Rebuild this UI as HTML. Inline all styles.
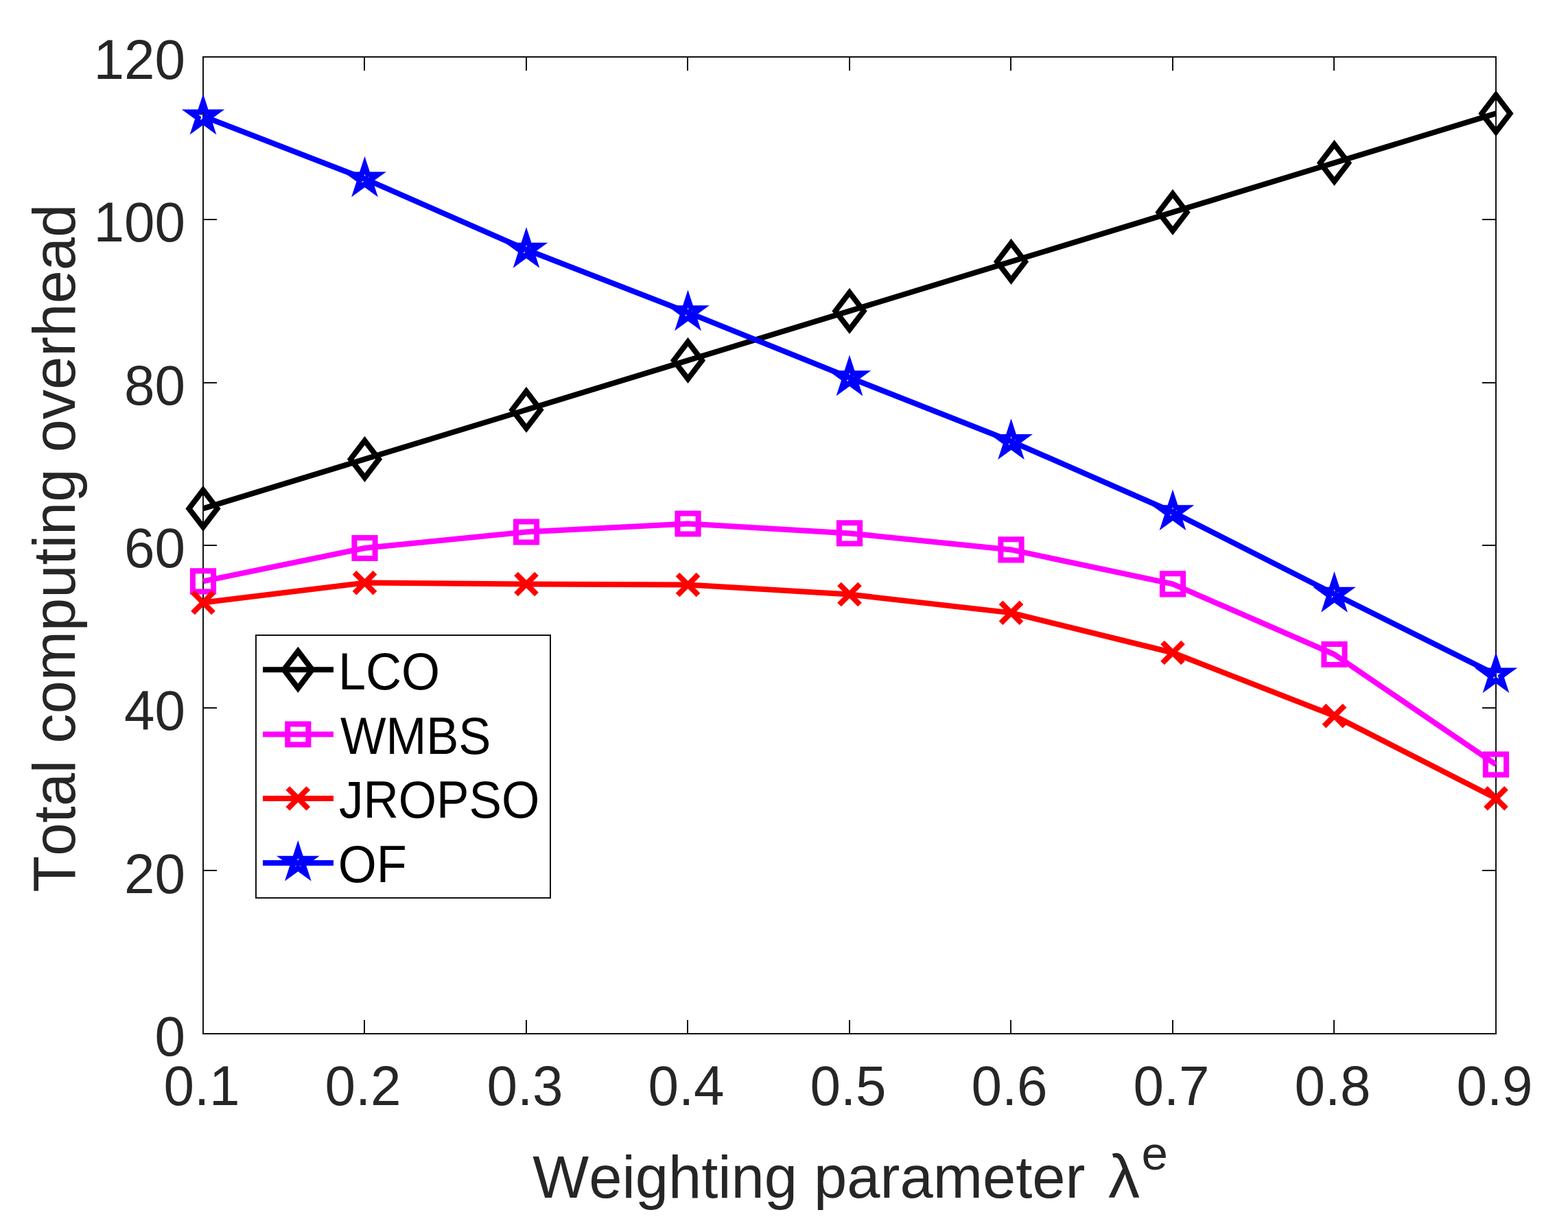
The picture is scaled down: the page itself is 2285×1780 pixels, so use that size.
<!DOCTYPE html>
<html><head><meta charset="utf-8"><title>Chart</title>
<style>
html,body{margin:0;padding:0;background:#fff;}
body{width:2285px;height:1780px;overflow:hidden;}
svg{display:block;}
text{font-family:"Liberation Sans",Arial,Helvetica,sans-serif;font-kerning:none;font-feature-settings:"kern" 0;}
</style></head><body>
<svg width="2285" height="1780" viewBox="0 0 2285 1780">
<rect x="0" y="0" width="2285" height="1780" fill="#fff"/>
<path d="M296 83H2180V1507H296ZM531 1507V1488 M531 83V102M767 1507V1488 M767 83V102M1002 1507V1488 M1002 83V102M1238 1507V1488 M1238 83V102M1473 1507V1488 M1473 83V102M1709 1507V1488 M1709 83V102M1944 1507V1488 M1944 83V102M296 1269H315 M2180 1269H2161M296 1032H315 M2180 1032H2161M296 795H315 M2180 795H2161M296 558H315 M2180 558H2161M296 320H315 M2180 320H2161" fill="none" stroke="#111111" stroke-width="2" stroke-linecap="square"/>
<g fill="#262626" font-size="80">
<text transform="translate(270 1539) scale(1 1.02)" text-anchor="end">0</text>
<text transform="translate(270 1301.67) scale(1 1.02)" text-anchor="end">20</text>
<text transform="translate(270 1064.33) scale(1 1.02)" text-anchor="end">40</text>
<text transform="translate(270 827) scale(1 1.02)" text-anchor="end">60</text>
<text transform="translate(270 589.67) scale(1 1.02)" text-anchor="end">80</text>
<text transform="translate(270 352.33) scale(1 1.02)" text-anchor="end">100</text>
<text transform="translate(270 115) scale(1 1.02)" text-anchor="end">120</text>
<text transform="translate(294 1610.8) scale(1 1.02)" text-anchor="middle">0.1</text>
<text transform="translate(529 1610.8) scale(1 1.02)" text-anchor="middle">0.2</text>
<text transform="translate(765 1610.8) scale(1 1.02)" text-anchor="middle">0.3</text>
<text transform="translate(1000 1610.8) scale(1 1.02)" text-anchor="middle">0.4</text>
<text transform="translate(1236 1610.8) scale(1 1.02)" text-anchor="middle">0.5</text>
<text transform="translate(1471 1610.8) scale(1 1.02)" text-anchor="middle">0.6</text>
<text transform="translate(1707 1610.8) scale(1 1.02)" text-anchor="middle">0.7</text>
<text transform="translate(1942 1610.8) scale(1 1.02)" text-anchor="middle">0.8</text>
<text transform="translate(2178 1610.8) scale(1 1.02)" text-anchor="middle">0.9</text>
</g>
<g fill="#262626" font-size="88">
<text transform="translate(776.32 1746.4) scale(0.9857 1.0)">Weighting parameter</text>
<text transform="translate(1615.1 1746.4) scale(1.048 1.01)">λ</text>
<text transform="translate(1663.57 1705.23)" font-size="69">e</text>
<text transform="translate(109 1300.68) rotate(-90) scale(0.9857 1.0)">Total computing overhead</text>
</g>
<path d="M296 741.4L531.5 669.4L767 597.4L1002.5 525.4L1238 453.4L1473.5 381.4L1709 309.4L1944.5 237.4L2180 165.4" fill="none" stroke="#000000" stroke-width="8" stroke-linejoin="round" stroke-linecap="butt"/>
<path d="M296 714.4L316.6 741.4L296 768.4L275.4 741.4ZM531.5 642.4L552.1 669.4L531.5 696.4L510.9 669.4ZM767 570.4L787.6 597.4L767 624.4L746.4 597.4ZM1002.5 498.4L1023.1 525.4L1002.5 552.4L981.9 525.4ZM1238 426.4L1258.6 453.4L1238 480.4L1217.4 453.4ZM1473.5 354.4L1494.1 381.4L1473.5 408.4L1452.9 381.4ZM1709 282.4L1729.6 309.4L1709 336.4L1688.4 309.4ZM1944.5 210.4L1965.1 237.4L1944.5 264.4L1923.9 237.4ZM2180 138.4L2200.6 165.4L2180 192.4L2159.4 165.4Z" fill="none" stroke="#000000" stroke-width="8" stroke-linejoin="miter" stroke-miterlimit="10" stroke-linecap="butt"/>
<path d="M296 847.4L531.5 799L767 775.5L1002.5 763.5L1238 777.4L1473.5 801.4L1709 851.3L1944.5 954L2180 1114.5" fill="none" stroke="#ff00ff" stroke-width="8" stroke-linejoin="round" stroke-linecap="butt"/>
<path d="M280.9 832.3H311.1V862.5H280.9ZM516.4 783.9H546.6V814.1H516.4ZM751.9 760.4H782.1V790.6H751.9ZM987.4 748.4H1017.6V778.6H987.4ZM1222.9 762.3H1253.1V792.5H1222.9ZM1458.4 786.3H1488.6V816.5H1458.4ZM1693.9 836.2H1724.1V866.4H1693.9ZM1929.4 938.9H1959.6V969.1H1929.4ZM2164.9 1099.4H2195.1V1129.6H2164.9Z" fill="none" stroke="#ff00ff" stroke-width="8" stroke-linejoin="miter" stroke-miterlimit="10" stroke-linecap="butt"/>
<path d="M296 878.5L531.5 849.6L767 851.5L1002.5 852.5L1238 866.5L1473.5 893.4L1709 951.5L1944.5 1043.6L2180 1163.8" fill="none" stroke="#ff0000" stroke-width="8" stroke-linejoin="round" stroke-linecap="butt"/>
<path d="M281 863.5L311 893.5M281 893.5L311 863.5M516.5 834.6L546.5 864.6M516.5 864.6L546.5 834.6M752 836.5L782 866.5M752 866.5L782 836.5M987.5 837.5L1017.5 867.5M987.5 867.5L1017.5 837.5M1223 851.5L1253 881.5M1223 881.5L1253 851.5M1458.5 878.4L1488.5 908.4M1458.5 908.4L1488.5 878.4M1694 936.5L1724 966.5M1694 966.5L1724 936.5M1929.5 1028.6L1959.5 1058.6M1929.5 1058.6L1959.5 1028.6M2165 1148.8L2195 1178.8M2165 1178.8L2195 1148.8" fill="none" stroke="#ff0000" stroke-width="8" stroke-linejoin="miter" stroke-miterlimit="10" stroke-linecap="butt"/>
<path d="M296 169.6L531.5 260.7L767 364L1002.5 455.5L1238 550.5L1473.5 643.3L1709 746.5L1944.5 866L2180 983.7" fill="none" stroke="#0000ff" stroke-width="8" stroke-linejoin="round" stroke-linecap="butt"/>
<path d="M296 149.6L300.49 163.42L315.02 163.42L303.27 171.96L307.76 185.78L296 177.24L284.24 185.78L288.73 171.96L276.98 163.42L291.51 163.42ZM531.5 240.7L535.99 254.52L550.52 254.52L538.77 263.06L543.26 276.88L531.5 268.34L519.74 276.88L524.23 263.06L512.48 254.52L527.01 254.52ZM767 344L771.49 357.82L786.02 357.82L774.27 366.36L778.76 380.18L767 371.64L755.24 380.18L759.73 366.36L747.98 357.82L762.51 357.82ZM1002.5 435.5L1006.99 449.32L1021.52 449.32L1009.77 457.86L1014.26 471.68L1002.5 463.14L990.74 471.68L995.23 457.86L983.48 449.32L998.01 449.32ZM1238 530.5L1242.49 544.32L1257.02 544.32L1245.27 552.86L1249.76 566.68L1238 558.14L1226.24 566.68L1230.73 552.86L1218.98 544.32L1233.51 544.32ZM1473.5 623.3L1477.99 637.12L1492.52 637.12L1480.77 645.66L1485.26 659.48L1473.5 650.94L1461.74 659.48L1466.23 645.66L1454.48 637.12L1469.01 637.12ZM1709 726.5L1713.49 740.32L1728.02 740.32L1716.27 748.86L1720.76 762.68L1709 754.14L1697.24 762.68L1701.73 748.86L1689.98 740.32L1704.51 740.32ZM1944.5 846L1948.99 859.82L1963.52 859.82L1951.77 868.36L1956.26 882.18L1944.5 873.64L1932.74 882.18L1937.23 868.36L1925.48 859.82L1940.01 859.82ZM2180 963.7L2184.49 977.52L2199.02 977.52L2187.27 986.06L2191.76 999.88L2180 991.34L2168.24 999.88L2172.73 986.06L2160.98 977.52L2175.51 977.52Z" fill="none" stroke="#0000ff" stroke-width="8" stroke-linejoin="miter" stroke-miterlimit="10" stroke-linecap="butt"/>
<rect x="373" y="926" width="429" height="383" fill="#fff" stroke="#111111" stroke-width="2"/>
<path d="M383 976.3H486" stroke="#000000" stroke-width="8" fill="none"/>
<path d="M434.3 949.3L454.9 976.3L434.3 1003.3L413.7 976.3Z" fill="none" stroke="#000000" stroke-width="8" stroke-linejoin="miter" stroke-miterlimit="10"/>
<text transform="translate(492.89 1004.7) scale(1.0 1.046)" font-size="72" fill="#000">LCO</text>
<path d="M383 1070.5H486" stroke="#ff00ff" stroke-width="8" fill="none"/>
<path d="M419.2 1055.4H449.4V1085.6H419.2Z" fill="none" stroke="#ff00ff" stroke-width="8" stroke-linejoin="miter" stroke-miterlimit="10"/>
<text transform="translate(495.89 1098.9) scale(0.98 1.046)" font-size="72" fill="#000">WMBS</text>
<path d="M383 1164H486" stroke="#ff0000" stroke-width="8" fill="none"/>
<path d="M419.3 1149L449.3 1179M419.3 1179L449.3 1149" fill="none" stroke="#ff0000" stroke-width="8" stroke-linejoin="miter" stroke-miterlimit="10"/>
<text transform="translate(493.89 1192.4) scale(0.9876 1.046)" font-size="72" fill="#000">JROPSO</text>
<path d="M383 1257.9H486" stroke="#0000ff" stroke-width="8" fill="none"/>
<path d="M434.3 1237.9L438.79 1251.72L453.32 1251.72L441.57 1260.26L446.06 1274.08L434.3 1265.54L422.54 1274.08L427.03 1260.26L415.28 1251.72L429.81 1251.72Z" fill="none" stroke="#0000ff" stroke-width="8" stroke-linejoin="miter" stroke-miterlimit="10"/>
<text transform="translate(492.79 1286.3) scale(1.0 1.046)" font-size="72" fill="#000">OF</text>
</svg>
</body></html>
